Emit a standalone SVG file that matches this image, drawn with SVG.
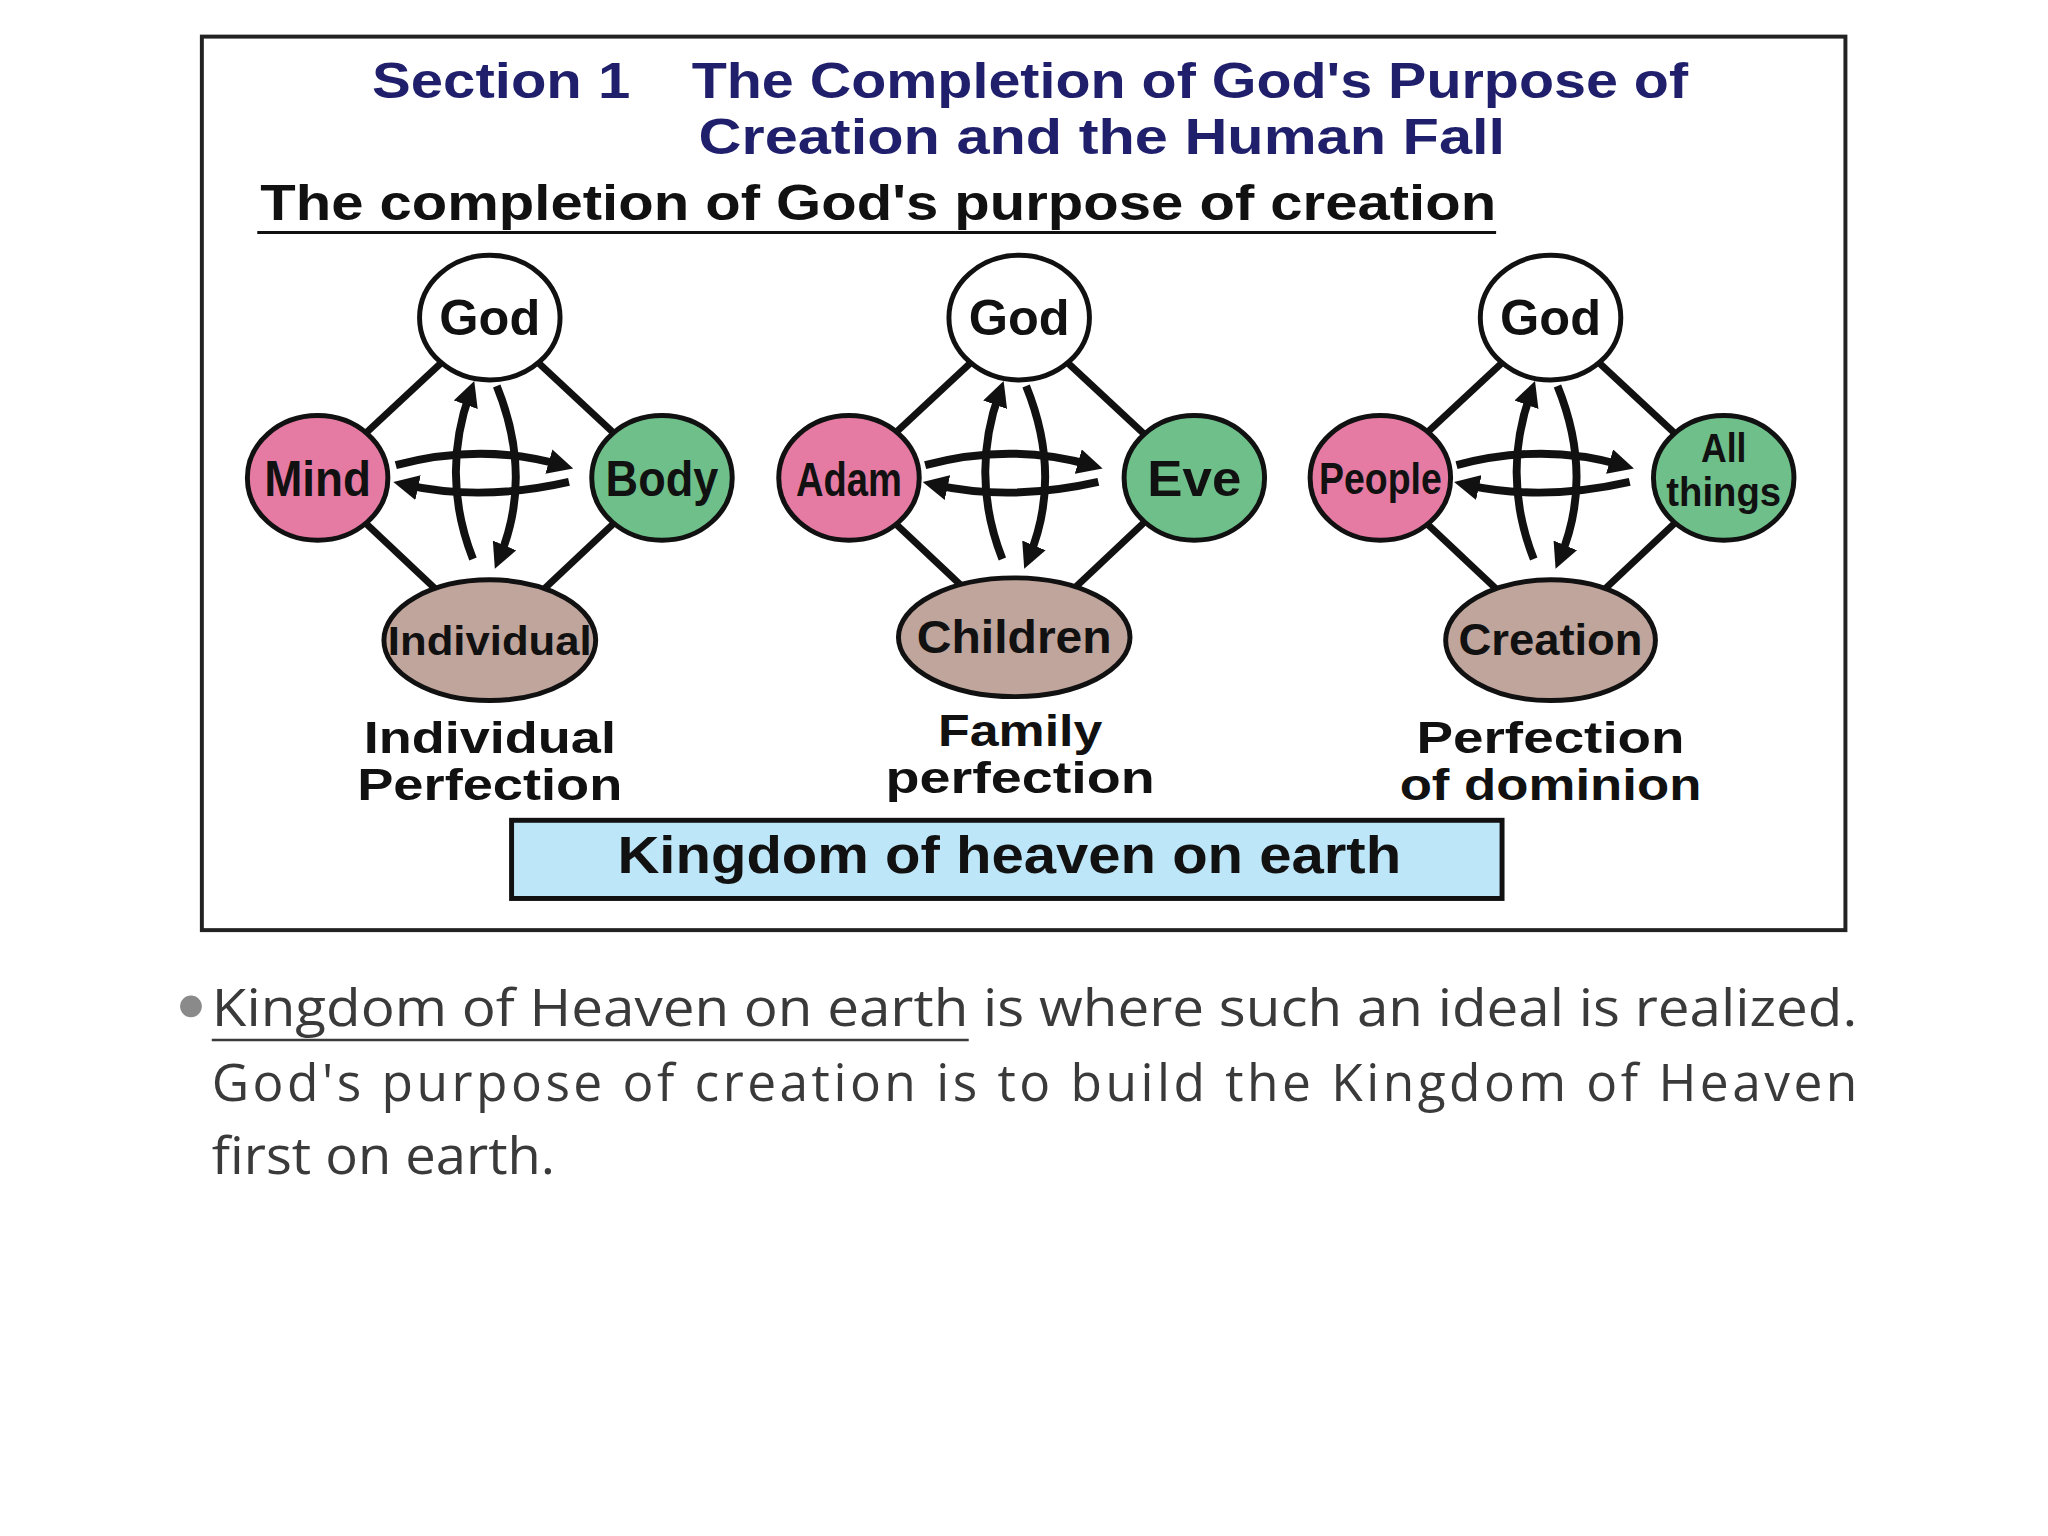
<svg xmlns="http://www.w3.org/2000/svg" width="2048" height="1536" viewBox="0 0 2048 1536">
<defs>
<style>
.h{font-family:"Liberation Sans Narrow","Liberation Sans",Arial,sans-serif;font-weight:bold}
.n{font-family:"Liberation Sans Narrow","Liberation Sans",Arial,sans-serif;font-weight:bold;fill:#111;text-anchor:middle}
.lk{stroke:#111;stroke-width:7;fill:none}
.ar{stroke:#111;stroke-width:8;fill:none;marker-end:url(#ah)}
.nd{stroke:#111;stroke-width:5}
.p{font-family:"Open Sans","Noto Sans",sans-serif;font-weight:normal;fill:#3a3a3a;font-size:52px}
</style>
<marker id="ah" viewBox="0 0 10 10" refX="5" refY="5" markerWidth="3.2" markerHeight="3.2" orient="auto" markerUnits="strokeWidth">
<path d="M0,0 L10,5 L0,10 z" fill="#111"/>
</marker>
<g id="links">
<line class="lk" x1="0" y1="0" x2="-174" y2="162"/>
<line class="lk" x1="0" y1="0" x2="174" y2="162"/>
<line class="lk" x1="-174" y1="162" x2="0" y2="326"/>
<line class="lk" x1="174" y1="162" x2="0" y2="326"/>
<path class="ar" d="M-95,149 Q-8,126 72,149"/>
<path class="ar" d="M80,166 Q-8,186 -85,169"/>
<path class="ar" d="M-17,244 Q-50,160 -20,76"/>
<path class="ar" d="M7,69 Q44,160 10,242"/>
</g>
</defs>
<rect width="2048" height="1536" fill="#fff"/>
<g transform="scale(0.9895)">
<rect x="204" y="37" width="1661" height="903" fill="#fff" stroke="#222" stroke-width="4"/>
<g id="title">
<text class="h" x="376" y="99" font-size="50" fill="#1f1f6b" textLength="261" lengthAdjust="spacingAndGlyphs">Section 1</text>
<text class="h" x="699" y="99" font-size="50" fill="#1f1f6b" textLength="1007" lengthAdjust="spacingAndGlyphs">The Completion of God's Purpose of</text>
<text class="h" x="706" y="156" font-size="50" fill="#1f1f6b" textLength="815" lengthAdjust="spacingAndGlyphs">Creation and the Human Fall</text>
<text class="h" x="263" y="222" font-size="50" fill="#111" textLength="1249" lengthAdjust="spacingAndGlyphs">The completion of God's purpose of creation</text>
<line x1="260" y1="235" x2="1512" y2="235" stroke="#111" stroke-width="3"/>
</g>
<g id="connectors">
<use href="#links" x="495" y="321"/>
<use href="#links" x="1030" y="321"/>
<use href="#links" x="1567" y="321"/>
</g>
<g id="d1">
<g id="god1"><ellipse class="nd" cx="495" cy="321" rx="71" ry="63" fill="#fff"/><text class="n" x="495" y="339" font-size="50" textLength="102" lengthAdjust="spacingAndGlyphs">God</text></g>
<g id="mind"><ellipse class="nd" cx="321" cy="483" rx="71" ry="63" fill="#e57ba3"/><text class="n" x="321" y="501" font-size="50" fill="#3a1520" textLength="108" lengthAdjust="spacingAndGlyphs">Mind</text></g>
<g id="body"><ellipse class="nd" cx="669" cy="483" rx="71" ry="63" fill="#6ebf8a"/><text class="n" x="669" y="501" font-size="50" fill="#0f2a18" textLength="114" lengthAdjust="spacingAndGlyphs">Body</text></g>
<g id="individual"><ellipse class="nd" cx="495" cy="647" rx="107" ry="61" fill="#c0a59c"/><text class="n" x="495" y="662" font-size="42" fill="#2a1614" textLength="206" lengthAdjust="spacingAndGlyphs">Individual</text></g>
<text class="n" x="495" y="761" font-size="44" textLength="255" lengthAdjust="spacingAndGlyphs">Individual</text>
<text class="n" x="495" y="808" font-size="44" textLength="268" lengthAdjust="spacingAndGlyphs">Perfection</text>
</g>
<g id="d2">
<g id="god2"><ellipse class="nd" cx="1030" cy="321" rx="71" ry="63" fill="#fff"/><text class="n" x="1030" y="339" font-size="50" textLength="102" lengthAdjust="spacingAndGlyphs">God</text></g>
<g id="adam"><ellipse class="nd" cx="858" cy="483" rx="71" ry="63" fill="#e57ba3"/><text class="n" x="858" y="501" font-size="48" fill="#3a1520" textLength="107" lengthAdjust="spacingAndGlyphs">Adam</text></g>
<g id="eve"><ellipse class="nd" cx="1207" cy="483" rx="71" ry="63" fill="#6ebf8a"/><text class="n" x="1207" y="501" font-size="50" fill="#0f2a18" textLength="95" lengthAdjust="spacingAndGlyphs">Eve</text></g>
<g id="children"><ellipse class="nd" cx="1025" cy="644" rx="117" ry="60" fill="#c0a59c"/><text class="n" x="1025" y="660" font-size="46" fill="#2a1614" textLength="197" lengthAdjust="spacingAndGlyphs">Children</text></g>
<text class="n" x="1031" y="754" font-size="44" textLength="166" lengthAdjust="spacingAndGlyphs">Family</text>
<text class="n" x="1031" y="801" font-size="44" textLength="272" lengthAdjust="spacingAndGlyphs">perfection</text>
</g>
<g id="d3">
<g id="god3"><ellipse class="nd" cx="1567" cy="321" rx="71" ry="63" fill="#fff"/><text class="n" x="1567" y="339" font-size="50" textLength="102" lengthAdjust="spacingAndGlyphs">God</text></g>
<g id="people"><ellipse class="nd" cx="1395" cy="483" rx="71" ry="63" fill="#e57ba3"/><text class="n" x="1395" y="499" font-size="44" fill="#3a1520" textLength="124" lengthAdjust="spacingAndGlyphs">People</text></g>
<g id="allthings"><ellipse class="nd" cx="1742" cy="483" rx="71" ry="63" fill="#6ebf8a"/><text class="n" x="1742" y="467" font-size="42" fill="#0f2a18" textLength="46" lengthAdjust="spacingAndGlyphs">All</text><text class="n" x="1742" y="511" font-size="42" fill="#0f2a18" textLength="116" lengthAdjust="spacingAndGlyphs">things</text></g>
<g id="creation"><ellipse class="nd" cx="1567" cy="647" rx="106" ry="61" fill="#c0a59c"/><text class="n" x="1567" y="662" font-size="44" fill="#2a1614" textLength="186" lengthAdjust="spacingAndGlyphs">Creation</text></g>
<text class="n" x="1567" y="761" font-size="44" textLength="271" lengthAdjust="spacingAndGlyphs">Perfection</text>
<text class="n" x="1567" y="808" font-size="44" textLength="305" lengthAdjust="spacingAndGlyphs">of dominion</text>
</g>
<g id="kingdom">
<rect x="517" y="829" width="1001" height="79" fill="#bde6f8" stroke="#111" stroke-width="5"/>
<text class="n" x="1020" y="882" font-size="52" textLength="792" lengthAdjust="spacingAndGlyphs">Kingdom of heaven on earth</text>
</g>
<g id="para">
<circle cx="193" cy="1017" r="11" fill="#8a8a8a"/>
<text class="p" x="214" y="1037" textLength="1663" lengthAdjust="spacingAndGlyphs">Kingdom of Heaven on earth is where such an ideal is realized.</text>
<line x1="214" y1="1051" x2="979" y2="1051" stroke="#3a3a3a" stroke-width="2.5"/>
<text class="p" x="214" y="1113" textLength="1663" lengthAdjust="spacing">God's purpose of creation is to build the Kingdom of Heaven</text>
<text class="p" x="214" y="1186" textLength="347" lengthAdjust="spacingAndGlyphs">first on earth.</text>
</g>
</g>
</svg>
